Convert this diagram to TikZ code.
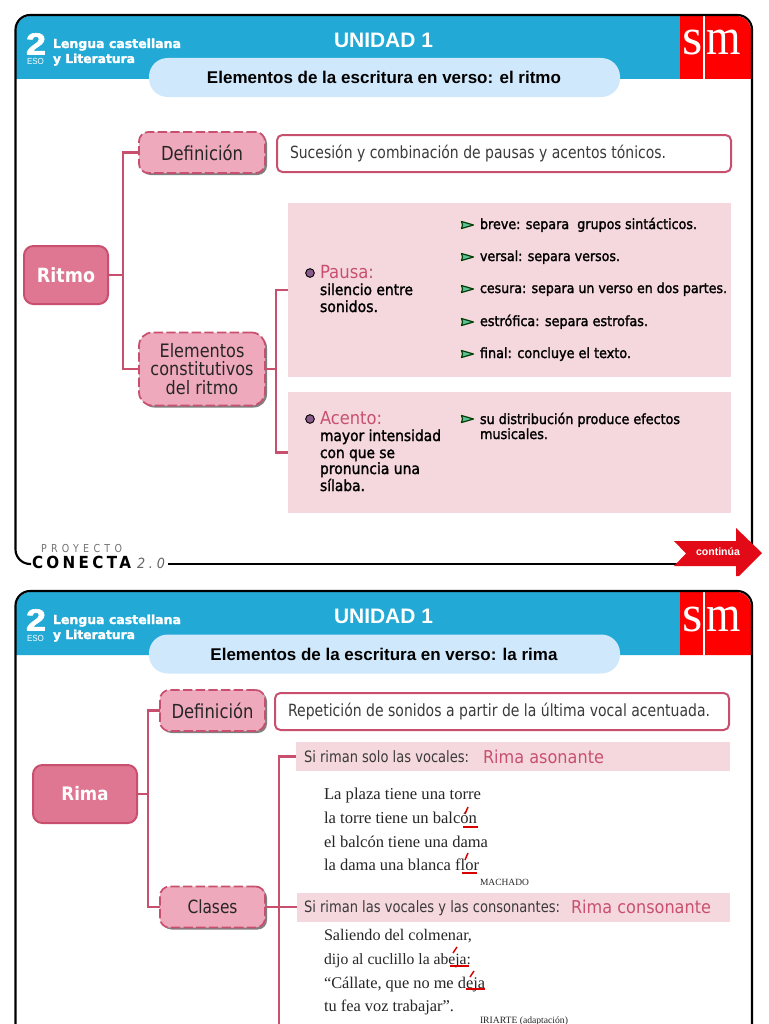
\documentclass[tikz,border=0pt]{standalone}
\usepackage{fontspec}
\usepackage{graphicx}
\setmainfont{DejaVu Sans}
\newfontfamily\arialf{Liberation Sans}
\newfontfamily\timesf{Liberation Serif}
\usetikzlibrary{shadows}
\definecolor{cblue}{HTML}{22A9D6}
\definecolor{cred}{HTML}{FF0000}
\definecolor{cpill}{HTML}{D0E8FB}
\definecolor{cline}{HTML}{C8506E}
\definecolor{cdash}{HTML}{EFA9BC}
\definecolor{cmain}{HTML}{E07792}
\definecolor{cpanel}{HTML}{F5D8DE}
\definecolor{ctext}{HTML}{3A3A3A}
\definecolor{cgreen}{HTML}{5CC09A}
\definecolor{cpurple}{HTML}{8A5A8A}
\definecolor{carrow}{HTML}{E30A17}
\newdimen\pxu \pxu=0.75pt
\newcommand{\fitw}[2]{\resizebox{#1\pxu}{!}{#2}}
\newcommand{\fity}[3]{\scalebox{1}[#2]{\resizebox{#1\pxu}{!}{#3}}}
\newcommand{\heavy}{\addfontfeature{FakeBold=1.8}}
\tikzset{
  x=0.75pt,y=-0.75pt,
  wh/.style 2 args={minimum width=#1*0.75pt,minimum height=#2*0.75pt,inner sep=0pt,outer sep=0pt},
  mainbox/.style={draw=cline,fill=cmain,line width=1.5pt,rounded corners=7pt,text=white},
  dashbox/.style={draw=cline,fill=cdash,line width=1.3pt,rounded corners=7pt,dash pattern=on 7pt off 2.5pt,
     align=center,text=black!85,
     general shadow={shadow xshift=1.5pt,shadow yshift=-1.5pt,fill=black!50,draw=none,dash pattern=on 100pt off 0pt}},
  defbox/.style={draw=cline,fill=white,line width=1.5pt,rounded corners=4pt},
  panel/.style={fill=cpanel,draw=none},
  pill/.style={fill=cpill,draw=none,rounded corners=14pt},
  conn/.style={draw=cline,line width=1.6pt},
  txt/.style={anchor=base west,inner sep=0pt,outer sep=0pt},
  mid/.style={anchor=base,inner sep=0pt,outer sep=0pt},
  frameline/.style={draw=black,line width=1.6pt},
  redmark/.style={draw=red!85!black,line width=1.1pt},
  bulletdot/.style={circle,draw=black,fill=cpurple,line width=.7pt,minimum size=6.5pt,inner sep=0pt},
  pics/tri/.style={code={\draw[fill=cgreen,draw=black!75!green,line width=.9pt,line join=round] (-5.5,-3.5) -- (6.5,0) -- (-5.5,3.5) -- (-4.5,0) -- cycle;}},
}
\begin{document}
\begin{tikzpicture}
\useasboundingbox (0,0) rectangle (768,1024);
\fill[white] (0,0) rectangle (768,1024);
\clip (0,0) rectangle (768,1024);

% ---------- panel 1 header
\fill[cblue] (16,79) [rounded corners=11pt] -- (16,16) [sharp corners] -- (680,16) -- (680,79) -- cycle;
\fill[cred] (680,79) -- (680,16) [rounded corners=11pt] -- (751,16) [sharp corners] -- (751,79) -- cycle;
\fill[white] (702.5,16) rectangle (704.5,79);
\node[txt,text=white] (s1) at (682,55) {\timesf\fontsize{39pt}{39pt}\selectfont s};
\node[txt,text=white] (m1) at (706,55) {\scalebox{.85}[1]{\timesf\fontsize{39pt}{39pt}\selectfont m}};
\node[txt,text=white] (two1) at (26,54.5) {\fity{20}{.85}{\arialf\bfseries\heavy 2}};
\node[txt,text=white] (eso1) at (27,65) {\fity{17}{1.1}{\arialf ESO}};
\node[txt,text=white] (lc1) at (53,48) {\fitw{128}{\bfseries\heavy Lengua castellana}};
\node[txt,text=white] (yl1) at (53,63) {\fitw{82}{\bfseries\heavy y Literatura}};
\node[mid,text=white] (un1) at (383.5,47.5) {\fitw{99}{\arialf\bfseries UNIDAD 1}};
\node[pill,wh={471}{39}] (pill1) at (384.5,77.5) {};
\node[mid] (ti1) at (384,84) {\fitw{354}{\arialf\bfseries Elementos de la escritura en verso: el ritmo}};

% frame 1
\draw[frameline] (31,564) [rounded corners=11pt] -- (15.5,564) -- (15.5,15) -- (752,15) [sharp corners] -- (752,545);
\draw[frameline] (168,564) -- (690,564);
\node[txt,text=black!55] (pro1) at (41,552) {\fity{81}{1.15}{\addfontfeature{LetterSpace=45}PROYECTO}};
\node[txt,text=black] (con1) at (32,568) {\fity{99}{1.1}{\bfseries\addfontfeature{LetterSpace=22}CONECTA}};
\node[txt,text=black!60] (ver1) at (137,568) {\fity{28}{1.1}{\itshape\addfontfeature{LetterSpace=30}2.0}};
\fill[carrow] (674,541) -- (736,541) -- (736,528) -- (762,553) -- (739,576) -- (736,576) -- (736,566) -- (674,566) -- (686,553.5) -- cycle;
\node[mid,text=white] (cont1) at (718,555) {\fitw{44}{\arialf\bfseries continúa}};

% panel 1 diagram
\node[mainbox,wh={84}{58}] (ritmo) at (66,275) {\fity{58}{1.12}{\bfseries Ritmo}};
\node[dashbox,wh={126}{41}] (def1) at (202,152.5) {\fity{82}{1.18}{Definición}};
\node[dashbox,wh={126}{73},rounded corners=10pt] (elem) at (202,369) {\fity{103}{1.15}{\begin{tabular}{@{}c@{}}\rule{0pt}{10.8pt}Elementos\\[-2pt]constitutivos\\[-2pt]del ritmo\end{tabular}}};
\node[defbox,wh={454}{37}] (dbox1) at (504,153.5) {};
\node[txt,text=ctext] (dtx1) at (290,158) {\fity{376}{1.2}{Sucesión y combinación de pausas y acentos tónicos.}};
\node[panel,wh={443}{174}] (pausa) at (509.5,290) {};
\node[panel,wh={443}{121}] (acento) at (509.5,452.5) {};
\coordinate (j1) at (123,275);
\coordinate (j2) at (276,369);
\draw[conn] (ritmo.east) -- (j1);
\draw[conn] (def1.west) -| (j1);
\draw[conn] (elem.west) -| (j1);
\draw[conn] (elem.east) -- (j2);
\draw[conn] (pausa.west) -| (j2);
\draw[conn] (acento.west) -| (j2);

\node[bulletdot] (b1) at (310,273) {};
\node[bulletdot] (b2) at (310,419) {};
\node[txt,text=cline] (pa) at (320,278) {\fity{54}{1.1}{Pausa:}};
\node[txt,text=black] (pa1) at (320,295) {\fity{93}{1.1}{\heavy silencio entre}};
\node[txt,text=black] (pa2) at (320,312) {\fity{58}{1.1}{\heavy sonidos.}};
\node[txt,text=cline] (ac) at (320,424) {\fity{62}{1.1}{Acento:}};
\node[txt,text=black] (ac1) at (320,441) {\fity{121}{1.1}{\heavy mayor intensidad}};
\node[txt,text=black] (ac2) at (320,458) {\fity{75}{1.1}{\heavy con que se}};
\node[txt,text=black] (ac3) at (320,474) {\fity{100}{1.1}{\heavy pronuncia una}};
\node[txt,text=black] (ac4) at (320,491) {\fity{45}{1.1}{\heavy sílaba.}};

\pic at (467,225) {tri};
\pic at (467,257) {tri};
\pic at (467,289) {tri};
\pic at (467,322) {tri};
\pic at (467,354) {tri};
\pic at (467,419) {tri};
\node[txt,text=black] (t1) at (480,229) {\fity{217}{1.1}{\heavy breve: separa\ \ grupos sintácticos.}};
\node[txt,text=black] (t2) at (480,261) {\fity{140}{1.1}{\heavy versal: separa versos.}};
\node[txt,text=black] (t3) at (480,293) {\fity{247}{1.1}{\heavy cesura: separa un verso en dos partes.}};
\node[txt,text=black] (t4) at (480,326) {\fity{168}{1.1}{\heavy estrófica: separa estrofas.}};
\node[txt,text=black] (t5) at (480,358) {\fity{151}{1.1}{\heavy final: concluye el texto.}};
\node[txt,text=black] (t6) at (480,424) {\fity{200}{1.1}{\heavy su distribución produce efectos}};
\node[txt,text=black] (t7) at (480,439) {\fity{68}{1.1}{\heavy musicales.}};

% ---------- panel 2 header
\fill[cblue] (16,655) [rounded corners=11pt] -- (16,592) [sharp corners] -- (680,592) -- (680,655) -- cycle;
\fill[cred] (680,655) -- (680,592) [rounded corners=11pt] -- (751,592) [sharp corners] -- (751,655) -- cycle;
\fill[white] (702.5,592) rectangle (704.5,655);
\node[txt,text=white] (s2) at (682,631) {\timesf\fontsize{39pt}{39pt}\selectfont s};
\node[txt,text=white] (m2) at (706,631) {\scalebox{.85}[1]{\timesf\fontsize{39pt}{39pt}\selectfont m}};
\node[txt,text=white] (two2) at (26,630.5) {\fity{20}{.85}{\arialf\bfseries\heavy 2}};
\node[txt,text=white] (eso2) at (27,641) {\fity{17}{1.1}{\arialf ESO}};
\node[txt,text=white] (lc2) at (53,624) {\fitw{128}{\bfseries\heavy Lengua castellana}};
\node[txt,text=white] (yl2) at (53,639) {\fitw{82}{\bfseries\heavy y Literatura}};
\node[mid,text=white] (un2) at (383.5,623.5) {\fitw{99}{\arialf\bfseries UNIDAD 1}};
\node[pill,wh={471}{39}] (pill2) at (384.5,654) {};
\node[mid] (ti2) at (384,660) {\fitw{347}{\arialf\bfseries Elementos de la escritura en verso: la rima}};

\draw[frameline] (15.5,1030) [rounded corners=11pt] -- (15.5,591) -- (752,591) [sharp corners] -- (752,1030);

% panel 2 diagram
\node[mainbox,wh={104}{58}] (rima) at (85,794) {\fity{47}{1.12}{\bfseries Rima}};
\node[dashbox,wh={105}{41}] (def2) at (212.5,710.5) {\fity{82}{1.18}{Definición}};
\node[dashbox,wh={105}{41}] (clases) at (212.5,907) {\fity{50}{1.18}{Clases}};
\node[defbox,wh={454}{37}] (dbox2) at (502,711.5) {};
\node[txt,text=ctext] (dtx2) at (288,716) {\fity{422}{1.2}{Repetición de sonidos a partir de la última vocal acentuada.}};
\node[panel,wh={434}{29}] (asonp) at (513,756.5) {};
\node[panel,wh={433}{29}] (consp) at (513.5,907) {};
\coordinate (j3) at (148,794);
\coordinate (j4) at (279,1030);
\draw[conn] (rima.east) -- (j3);
\draw[conn] (def2.west) -| (j3);
\draw[conn] (clases.west) -| (j3);
\draw[conn,line width=2pt] (clases.east) -- (consp.west);
\draw[conn] (asonp.west) -| (j4);

\node[txt,text=ctext] (as1) at (304,762) {\fity{165}{1.2}{Si riman solo las vocales:}};
\node[txt,text=cline] (as2) at (483,763) {\fity{121}{1.1}{Rima asonante}};
\node[txt,text=ctext] (co1) at (304,912) {\fity{256}{1.2}{Si riman las vocales y las consonantes:}};
\node[txt,text=cline] (co2) at (571,913) {\fity{140}{1.1}{Rima consonante}};

\node[txt,text=black!85] (p1) at (324,799) {\fitw{157}{\timesf La plaza tiene una torre}};
\node[txt,text=black!85] (p2) at (324,823) {\fitw{153}{\timesf la torre tiene un balcón}};
\node[txt,text=black!85] (p3) at (324,847) {\fitw{164}{\timesf el balcón tiene una dama}};
\node[txt,text=black!85] (p4) at (324,870) {\fitw{155}{\timesf la dama una blanca flor}};
\node[txt,text=black!85] (mach) at (480,885) {\fitw{49}{\timesf MACHADO}};
\node[txt,text=black!85] (q1) at (324,940) {\fitw{148}{\timesf Saliendo del colmenar,}};
\node[txt,text=black!85] (q2) at (324,964) {\fitw{147}{\timesf dijo al cuclillo la abeja:}};
\node[txt,text=black!85] (q3) at (324,988) {\fitw{161}{\timesf “Cállate, que no me deja}};
\node[txt,text=black!85] (q4) at (324,1011) {\fitw{130}{\timesf tu fea voz trabajar”.}};
\node[txt,text=black!85] (iri) at (480,1023) {\fitw{88}{\timesf IRIARTE (adaptación)}};

\draw[redmark] (463,827) -- (478,827);
\draw[redmark] (465,814) -- (468,807);
\draw[redmark] (462,873) -- (477,873);
\draw[redmark] (465,860) -- (468,853);
\draw[redmark] (450,966) -- (469,966);
\draw[redmark] (453,953) -- (457,947);
\draw[redmark] (466,989) -- (485,989);
\draw[redmark] (470,977) -- (474,971);
\end{tikzpicture}
\end{document}
